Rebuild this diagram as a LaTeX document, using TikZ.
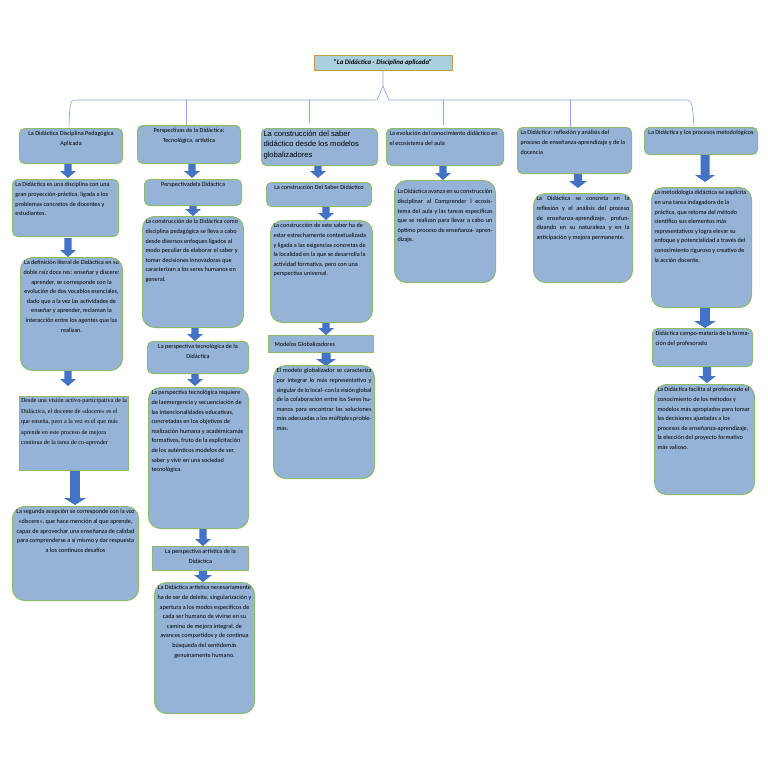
\documentclass[tikz,border=0pt]{standalone}
\usepackage{fontspec}
\setmainfont{Carlito}
\newfontfamily\serifA{Liberation Serif}
\newfontfamily\sansB{Liberation Sans}
\definecolor{bfill}{HTML}{95B3D7}
\definecolor{bdraw}{HTML}{8DBB6B}
\definecolor{arr}{HTML}{4472C4}
\definecolor{brc}{HTML}{8EAADB}
\tikzset{
 box/.style={draw=bdraw,fill=bfill,line width=1pt,rounded corners=5pt},
 bigbox/.style={box,rounded corners=12pt},
 sqbox/.style={draw=bdraw,fill=bfill,line width=1pt},
 brace/.style={draw=brc,line width=0.7pt}
}
\newcommand\bx[8][box]{%
 \pgfmathsetmacro\bw{#5-#3}\pgfmathsetmacro\bh{#6-#4}%
 \node[#1,anchor=north west,inner sep=0pt,minimum width=\bw pt,minimum height=\bh pt] (#2) at (#3,#4)
 {\parbox[t][\dimexpr\bh pt-6pt\relax][#7]{\dimexpr\bw pt-6pt\relax}{\fontsize{6.2}{9.6}\selectfont #8}};}
\newcommand\barrow[4]{%
 \fill[arr] ({#1-#4*0.45},#2) -- ({#1+#4*0.45},#2) -- ({#1+#4*0.45},{#3-7}) -- ({#1+#4},{#3-7}) -- (#1,#3) -- ({#1-#4},{#3-7}) -- ({#1-#4*0.45},{#3-7}) -- cycle;}
\begin{document}
\begin{tikzpicture}[x=1pt,y=-1pt]
\useasboundingbox[fill=white] (0,0) rectangle (768,764);
% title
\node[draw={rgb,255:red,190;green,160;blue,60},fill={rgb,255:red,168;green,208;blue,222},line width=1pt,minimum width=138pt,minimum height=15pt,inner sep=0pt,font=\fontsize{6.8}{8}\selectfont\bfseries\itshape] (title) at (383,62.5) {"La Didáctica - Disciplina aplicada"};
% brace
\draw[brace] (title.south) -- (383,86) -- (377,100) -- (78,100) .. controls (70,100) .. (69,126);
\draw[brace] (383,86) -- (389,100) -- (684,100) .. controls (692,100) .. (694,126);
\foreach \xx/\yy in {186/125,309/123,443/125,570/127}{\draw[brace] (\xx,100) -- (\xx,\yy);}
% column 1
\bx{A1}{19}{128}{122}{163}{t}{\centering La Didáctica Disciplina Pedagógica Aplicada}
\barrow{68}{164}{178}{8}
\bx{A2}{12}{179}{118}{236}{t}{\raggedright La Didáctica es una disciplina con una gran proyección-práctica, ligada a los problemas concretos de docentes y estudiantes.}
\barrow{68}{238}{257}{8}
\bx[bigbox]{A3}{20}{257}{122}{370}{t}{\centering La definición literal de Didáctica en su doble raíz doce res: enseñar y discere: aprender, se corresponde con la evolución de dos vocablos esenciales, dado que a la vez las actividades de enseñar y aprender, reclaman la interacción entre los agentes que las realizan.}
\barrow{68}{371}{386}{8}
\node[sqbox,anchor=north west,inner sep=0pt,minimum width=109pt,minimum height=74pt] (A4) at (19,396)
 {\parbox[t][70pt][t]{106pt}{\raggedright\serifA\fontsize{6.2}{10.4}\selectfont Desde una visión activo-participativa de la Didáctica, el docente de «docere» es el que enseña, pero a la vez es el que más aprende en este proceso de mejora continua de la tarea de co-aprender}};
\barrow{75}{471}{505}{11}
\bx[bigbox]{A5}{12}{506}{138}{600}{t}{\centering La segunda acepción se corresponde con la voz\\ «discere», que hace mención al que aprende, capaz de aprovechar una enseñanza de calidad para comprenderse a sí mismo y dar respuesta a los continuos desafíos}
% column 2
\bx{B1}{137}{125}{240}{163}{t}{\centering Perspectivas de la Didáctica: Tecnológica, artística}
\barrow{192}{164}{178}{8}
\bx{B2}{144}{179}{241}{205}{t}{\centering Perspectivadela Didáctica}
\barrow{193}{206}{216}{8}
\bx[bigbox]{B3}{142}{216}{243}{327}{t}{\raggedright La construcción de la Didáctica como disciplina pedagógica se lleva a cabo desde diversos enfoques ligados al modo peculiar de elaborar el saber y tomar decisiones innovadoras que caracterizan a los seres humanos en general.}
\barrow{195}{328}{341}{8}
\bx{B4}{147}{341}{248}{373}{t}{\centering La perspectiva tecnológica de la Didáctica}
\barrow{195}{374}{386}{8}
\bx[bigbox]{B5}{148}{387}{248}{528}{t}{\raggedright La perspectiva tecnológica requiere de laemergencia y secuenciación de las intencionalidades educativas, concretadas en los objetivos de realización humana y académicamás formativos, fruto de la explicitación de los auténticos modelos de ser, saber y vivir en una sociedad tecnológica.}
\barrow{203}{529}{546}{8}
\bx[sqbox]{B6}{152}{546}{248}{570}{t}{\centering La perspectiva artística de la Didáctica}
\barrow{203}{571}{582}{9}
\bx[bigbox]{B7}{154}{582}{254}{713}{t}{\centering La Didáctica artística necesariamente ha de ser de deleite, singularización y apertura a los modos específicos de cada ser humano de vivirse en su camino de mejora integral, de avances compartidos y de continua búsqueda del sentidomás genuinamente humano.}
% column 3
\node[box,anchor=north west,inner sep=0pt,minimum width=116pt,minimum height=37pt] (C1) at (261,128)
 {\parbox[t][33pt][t]{112pt}{\raggedright\sansB\fontsize{7.6}{10.5}\selectfont La construcción del saber didáctico desde los modelos globalizadores}};
\barrow{318}{166}{178}{8}
\bx{C2}{266}{182}{371}{206}{t}{\centering La construcción Del Saber Didáctico}
\barrow{326}{207}{220}{8}
\bx[bigbox]{C3}{270}{220}{372}{322}{t}{\raggedright La construcción de este saber ha de estar estrechamente contextualizada y ligada a las exigencias concretas de la localidad en la que se desarrolla la actividad formativa, pero con una perspectiva universal.}
\barrow{326}{323}{335}{8}
\bx[sqbox]{C4}{268}{335}{373}{352}{c}{\raggedright\hspace*{3pt}Modelos Globalizadores}
\barrow{326}{353}{366}{10}
\bx[bigbox]{C5}{273}{365}{374}{478}{t}{El modelo globalizador se caracteriza por integrar lo más representativo y singular de lo local- con la visión global de la colaboración entre los Seres humanos para encontrar las soluciones más adecuadas a los múltiples problemas.}
% column 4
\bx{D1}{386}{128}{503}{165}{t}{\raggedright La evolución del conocimiento didáctico en el ecosistema del aula}
\barrow{443}{166}{180}{8}
\bx[bigbox]{D2}{394}{180}{495}{282}{t}{\vspace*{6pt}La Didáctica avanza en su construcción disciplinar al Comprender l ecosistema del aula y las tareas específicas que se realizan para llevar a cabo un óptimo proceso de enseñanza- aprendizaje.}
% column 5
\bx{E1}{517}{127}{631}{173}{t}{\raggedright La Didáctica: reflexión y análisis del proceso de enseñanza-aprendizaje y de la docencia}
\barrow{578}{174}{188}{9}
\bx[bigbox]{E2}{533}{193}{632}{282}{t}{La Didáctica se concreta en la reflexión y el análisis del proceso de enseñanza-aprendizaje, profundizando en su naturaleza y en la anticipación y mejora permanente.}
% column 6
\bx{F1}{644}{127}{757}{154}{t}{\centering La Didáctica y los procesos metodológicos}
\barrow{705}{155}{182}{10}
\bx[bigbox]{F2}{651}{187}{751}{307}{t}{\raggedright La metodología didáctica se explicita en una tarea indagadora de la práctica, que retoma del método científico sus elementos más representativos y logra elevar su enfoque y potencialidad a través del conocimiento riguroso y creativo de la acción docente,}
\barrow{705}{308}{328}{11}
\bx{F3}{652}{328}{752}{366}{t}{Didáctica campo-materia de la formación del profesorado}
\barrow{707}{367}{383}{9}
\bx[bigbox]{F4}{654}{384}{754}{494}{t}{\raggedright La Didáctica facilita al profesorado el conocimiento de los métodos y modelos más apropiados para tomar las decisiones ajustadas a los procesos de enseñanza-aprendizaje, la elección del proyecto formativo más valioso.}
\end{tikzpicture}
\end{document}
